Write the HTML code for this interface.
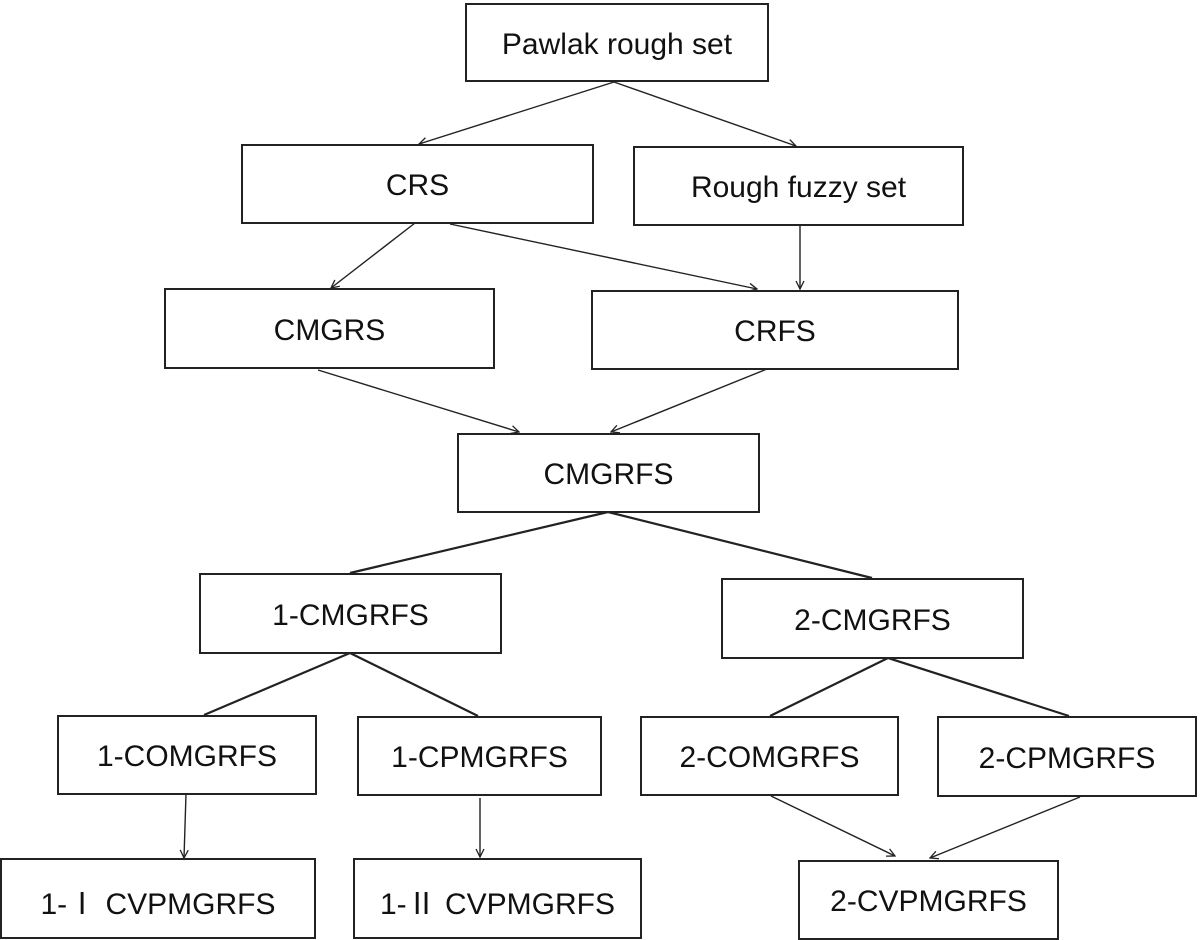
<!DOCTYPE html>
<html><head><meta charset="utf-8"><style>
html,body{margin:0;padding:0;background:#fff;}
body{width:1200px;height:940px;position:relative;overflow:hidden;font-family:"Liberation Sans","Noto Sans CJK SC",sans-serif;}
.b{position:absolute;border:2px solid #222;box-sizing:border-box;display:flex;align-items:center;justify-content:center;font-size:30px;color:#111;background:#fff;white-space:nowrap;padding-top:4px;}
svg{position:absolute;left:0;top:0;}
</style></head><body>
<svg width="1200" height="940">
<defs><marker id="a" markerWidth="10" markerHeight="10" refX="9" refY="5" orient="auto" markerUnits="userSpaceOnUse"><path d="M1,1 L9,5 L1,9" fill="none" stroke="#222" stroke-width="1.3"/></marker></defs>
<g stroke="#222" stroke-width="1.4" fill="none" marker-end="url(#a)">
<line x1="614" y1="82" x2="419" y2="144"/>
<line x1="614" y1="82" x2="796" y2="146"/>
<line x1="415" y1="223" x2="331" y2="288"/>
<line x1="450" y1="224" x2="757" y2="289"/>
<line x1="800" y1="225" x2="800" y2="289"/>
<line x1="318" y1="370" x2="519" y2="432"/>
<line x1="767" y1="369" x2="611" y2="432"/>
<line x1="186" y1="794" x2="184" y2="858"/>
<line x1="480" y1="798" x2="480" y2="857"/>
<line x1="771" y1="796" x2="895" y2="856"/>
<line x1="1080" y1="797" x2="930" y2="858"/>
</g>
<g stroke="#222" stroke-width="2.2" fill="none">
<line x1="608" y1="512" x2="350" y2="573"/>
<line x1="608" y1="512" x2="872" y2="578"/>
<line x1="350" y1="653" x2="204" y2="715"/>
<line x1="350" y1="653" x2="478" y2="716"/>
<line x1="888" y1="658" x2="770" y2="716"/>
<line x1="888" y1="658" x2="1069" y2="716"/>
</g>
</svg>
<div class="b" style="left:465px;top:3px;width:304px;height:79px;">Pawlak rough set</div>
<div class="b" style="left:241px;top:144px;width:353px;height:80px;">CRS</div>
<div class="b" style="left:633px;top:146px;width:331px;height:80px;">Rough fuzzy set</div>
<div class="b" style="left:164px;top:288px;width:331px;height:81px;">CMGRS</div>
<div class="b" style="left:591px;top:290px;width:368px;height:80px;">CRFS</div>
<div class="b" style="left:457px;top:433px;width:303px;height:80px;">CMGRFS</div>
<div class="b" style="left:199px;top:573px;width:303px;height:81px;">1-CMGRFS</div>
<div class="b" style="left:721px;top:578px;width:303px;height:81px;">2-CMGRFS</div>
<div class="b" style="left:57px;top:715px;width:260px;height:80px;">1-COMGRFS</div>
<div class="b" style="left:357px;top:716px;width:245px;height:80px;">1-CPMGRFS</div>
<div class="b" style="left:640px;top:716px;width:259px;height:80px;">2-COMGRFS</div>
<div class="b" style="left:937px;top:716px;width:260px;height:81px;">2-CPMGRFS</div>
<div class="b" style="left:0px;top:858px;width:316px;height:81px;">1-Ⅰ CVPMGRFS</div>
<div class="b" style="left:353px;top:858px;width:289px;height:81px;">1-Ⅱ CVPMGRFS</div>
<div class="b" style="left:798px;top:860px;width:261px;height:80px;">2-CVPMGRFS</div>
</body></html>
